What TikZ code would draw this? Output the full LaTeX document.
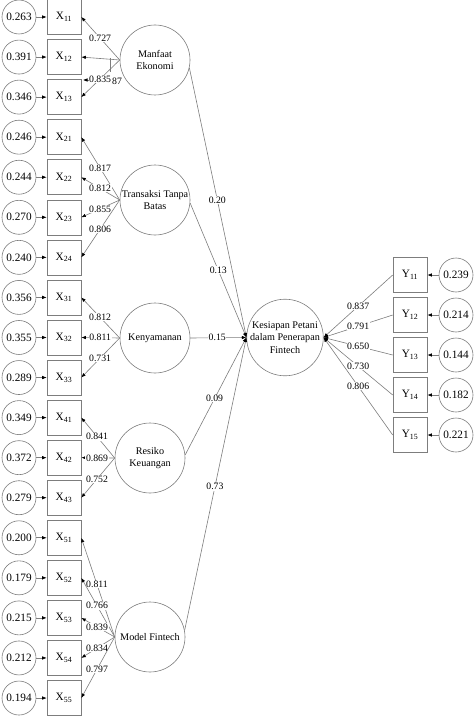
\documentclass[tikz,border=0pt]{standalone}
\usepackage{fontspec}
\setmainfont{Liberation Serif}
\usetikzlibrary{arrows.meta}
\definecolor{lc}{RGB}{125,125,125}
\begin{document}
\begin{tikzpicture}[x=1bp,y=-1bp,
  font=\fontsize{9.8}{11.5}\selectfont,
  line width=0.6bp,
  err/.style={circle,draw=lc,minimum size=34bp,inner sep=0pt,font=\fontsize{11.3}{13}\selectfont},
  ind/.style={rectangle,draw=lc,minimum width=34bp,minimum height=35bp,inner sep=0pt,font=\fontsize{11.3}{13}\selectfont},
  lat/.style={circle,draw=lc,minimum size=70bp,inner sep=0pt,align=center,font=\fontsize{10.2}{12.5}\selectfont},
  arr/.style={draw=lc,-{Latex[length=4.5bp,width=3.5bp,color=black]}},
  lbl/.style={fill=white,inner sep=0.6bp,text=black}]
\useasboundingbox (0,0) rectangle (474,719);
% indicators of exogenous constructs
\foreach \n/\v/\i in {11/0.263/0,12/0.391/1,13/0.346/2,21/0.246/3,22/0.244/4,23/0.270/5,24/0.240/6,
  31/0.356/7,32/0.355/8,33/0.289/9,41/0.349/10,42/0.372/11,43/0.279/12,
  51/0.200/13,52/0.179/14,53/0.215/15,54/0.212/16,55/0.194/17}{
  \node[err] (e\n) at (19,{17+40.06*\i}) {\v};
  \node[ind] (x\n) at (64,{17+40.06*\i}) {X\textsubscript{\n}};
  \draw[arr] (e\n) -- (x\n);
}
% indicators of endogenous construct
\foreach \n/\v/\i in {11/0.239/0,12/0.214/1,13/0.144/2,14/0.182/3,15/0.221/4}{
  \node[ind] (y\n) at (410,{275+40*\i}) {Y\textsubscript{\n}};
  \node[err] (f\n) at (456,{275+40*\i}) {\v};
  \draw[arr] (f\n) -- (y\n);
}
% latent variables
\node[lat] (m1) at (155,60) {Manfaat\\Ekonomi};
\node[lat] (m2) at (155,200) {Transaksi Tanpa\\Batas};
\node[lat] (m3) at (155,338) {Kenyamanan};
\node[lat] (m4) at (150,458) {Resiko\\Keuangan};
\node[lat] (m5) at (150,637) {Model Fintech};
\node[lat] (k) at (285,337.5) {Kesiapan Petani\\dalam Penerapan\\Fintech};
% loadings
\draw[arr] (m1.west) -- node[lbl,pos=0.51]{0.727} (x11.east);
\draw[arr] (m1.west) -- (x12.east);
\draw[arr] (m1.west) -- node[lbl,pos=0.51]{0.835} (x13.east);
\coordinate (t1) at (110,58);
\coordinate (t2) at (110,72);
\draw[draw=lc] (t1) -- (t2);
\coordinate (a1) at (89,80);
\coordinate (a2) at (83,80);
\draw[arr] (a1) -- (a2);
\node[inner sep=0pt] (n87) at (117,81) {87};
\draw[arr] (m2.west) -- node[lbl,pos=0.51]{0.817} (x21.east);
\draw[arr] (m2.west) -- node[lbl,pos=0.51]{0.812} (x22.east);
\draw[arr] (m2.west) -- node[lbl,pos=0.51]{0.855} (x23.east);
\draw[arr] (m2.west) -- node[lbl,pos=0.51]{0.806} (x24.east);
\draw[arr] (m3.west) -- node[lbl,pos=0.51]{0.812} (x31.east);
\draw[arr] (m3.west) -- node[lbl,pos=0.51]{0.811} (x32.east);
\draw[arr] (m3.west) -- node[lbl,pos=0.51]{0.731} (x33.east);
\draw[arr] (m4.west) -- node[lbl,pos=0.53]{0.841} (x41.east);
\draw[arr] (m4.west) -- node[lbl,pos=0.53]{0.869} (x42.east);
\draw[arr] (m4.west) -- node[lbl,pos=0.53]{0.752} (x43.east);
\draw[arr] (m5.west) -- node[lbl,pos=0.53]{0.811} (x51.east);
\draw[arr] (m5.west) -- node[lbl,pos=0.53]{0.766} (x52.east);
\draw[arr] (m5.west) -- node[lbl,pos=0.53]{0.839} (x53.east);
\draw[arr] (m5.west) -- node[lbl,pos=0.53]{0.834} (x54.east);
\draw[arr] (m5.west) -- node[lbl,pos=0.53]{0.797} (x55.east);
% structural paths
\draw[arr] (m1.-13) -- node[lbl,pos=0.49]{0.20} (k.west);
\draw[arr] (m2.-5) -- node[lbl,pos=0.5]{0.13} (k.west);
\draw[arr] (m3.east) -- node[lbl,pos=0.48]{0.15} (k.west);
\draw[arr] (m4.5) -- node[lbl,pos=0.48]{0.09} (k.west);
\draw[arr] (m5.11) -- node[lbl,pos=0.49]{0.73} (k.west);
% endogenous loadings
\draw[arr] (y11.west) -- node[lbl,pos=0.5]{0.837} (k.east);
\draw[arr] (y12.west) -- node[lbl,pos=0.5]{0.791} (k.east);
\draw[arr] (y13.west) -- node[lbl,pos=0.5]{0.650} (k.east);
\draw[arr] (y14.west) -- node[lbl,pos=0.5]{0.730} (k.east);
\draw[arr] (y15.west) -- node[lbl,pos=0.5]{0.806} (k.east);
\end{tikzpicture}
\end{document}
